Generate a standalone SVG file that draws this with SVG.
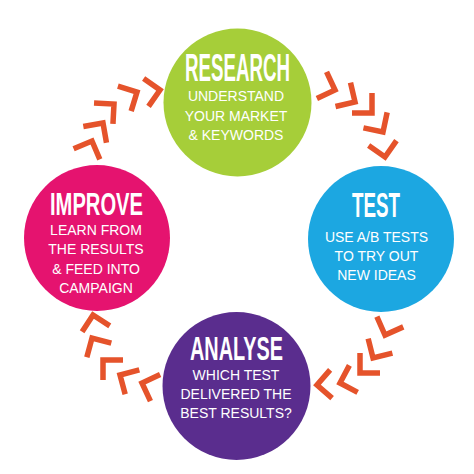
<svg xmlns="http://www.w3.org/2000/svg" xmlns:xlink="http://www.w3.org/1999/xlink" width="474" height="474" viewBox="0 0 474 474">
  <style>
    .title { font-family: 'Liberation Sans Narrow', 'Liberation Sans', Arial, sans-serif; font-weight: bold; fill: #ffffff; text-anchor: middle; }
    .sub { font-family: 'Liberation Sans', Arial, sans-serif; font-size: 14px; fill: #ffffff; text-anchor: middle; }
    .chev { fill: none; stroke: #E5532B; stroke-width: 5.5; stroke-linecap: butt; stroke-linejoin: miter; }
  </style>
  <defs>
    <path id="chev" class="chev" d="M -14.14,-14.14 L 0,0 L -14.14,14.14"/>
  </defs>
  <rect width="474" height="474" fill="#ffffff"/>

  <g id="connectors">
    <!-- Improve -> Research -->
    <use xlink:href="#chev" href="#chev" transform="translate(92,141) rotate(-68)"/>
    <use xlink:href="#chev" href="#chev" transform="translate(103,123) rotate(-55)"/>
    <use xlink:href="#chev" href="#chev" transform="translate(114,104) rotate(-42)"/>
    <use xlink:href="#chev" href="#chev" transform="translate(137,92) rotate(-28)"/>
    <use xlink:href="#chev" href="#chev" transform="translate(160,90) rotate(-10)"/>
    <!-- Research -> Test -->
    <use xlink:href="#chev" href="#chev" transform="translate(335,90) rotate(20)"/>
    <use xlink:href="#chev" href="#chev" transform="translate(355,102) rotate(32)"/>
    <use xlink:href="#chev" href="#chev" transform="translate(372,113) rotate(45)"/>
    <use xlink:href="#chev" href="#chev" transform="translate(383,132) rotate(57)"/>
    <use xlink:href="#chev" href="#chev" transform="translate(385,157) rotate(80)"/>
    <!-- Test -> Analyse -->
    <use xlink:href="#chev" href="#chev" transform="translate(385,335) rotate(111)"/>
    <use xlink:href="#chev" href="#chev" transform="translate(373,358) rotate(121)"/>
    <use xlink:href="#chev" href="#chev" transform="translate(360,373) rotate(135)"/>
    <use xlink:href="#chev" href="#chev" transform="translate(340,383) rotate(163)"/>
    <use xlink:href="#chev" href="#chev" transform="translate(317,385) rotate(176)"/>
    <!-- Analyse -> Improve -->
    <use xlink:href="#chev" href="#chev" transform="translate(142,383) rotate(200)"/>
    <use xlink:href="#chev" href="#chev" transform="translate(120,375) rotate(210)"/>
    <use xlink:href="#chev" href="#chev" transform="translate(103,360) rotate(225)"/>
    <use xlink:href="#chev" href="#chev" transform="translate(92,338) rotate(240)"/>
    <use xlink:href="#chev" href="#chev" transform="translate(93,315) rotate(258)"/>
  </g>

  <g id="research">
    <circle cx="237.5" cy="102.5" r="74" fill="#A6CE39"/>
    <text class="title" x="237.5" y="81" font-size="39" textLength="105" lengthAdjust="spacingAndGlyphs">RESEARCH</text>
    <text class="sub" x="236" y="101">UNDERSTAND</text>
    <text class="sub" x="236" y="120.5">YOUR MARKET</text>
    <text class="sub" x="236" y="140">&amp; KEYWORDS</text>
  </g>

  <g id="test">
    <circle cx="381" cy="239" r="73" fill="#1CA7E1"/>
    <text class="title" x="376" y="217" font-size="35" textLength="48" lengthAdjust="spacingAndGlyphs">TEST</text>
    <text class="sub" x="376.5" y="241.5">USE A/B TESTS</text>
    <text class="sub" x="376.5" y="260.5">TO TRY OUT</text>
    <text class="sub" x="376.5" y="280">NEW IDEAS</text>
  </g>

  <g id="analyse">
    <circle cx="236.5" cy="386" r="74" fill="#5A2D8E"/>
    <text class="title" x="236.5" y="360" font-size="33" textLength="93" lengthAdjust="spacingAndGlyphs">ANALYSE</text>
    <text class="sub" x="236" y="380">WHICH TEST</text>
    <text class="sub" x="236" y="399">DELIVERED THE</text>
    <text class="sub" x="236" y="418">BEST RESULTS?</text>
  </g>

  <g id="improve">
    <circle cx="97" cy="238" r="73" fill="#E5136F"/>
    <text class="title" x="96.5" y="215" font-size="32" textLength="93" lengthAdjust="spacingAndGlyphs">IMPROVE</text>
    <text class="sub" x="96" y="235">LEARN FROM</text>
    <text class="sub" x="96" y="254">THE RESULTS</text>
    <text class="sub" x="96" y="273.5">&amp; FEED INTO</text>
    <text class="sub" x="96" y="293">CAMPAIGN</text>
  </g>
</svg>
